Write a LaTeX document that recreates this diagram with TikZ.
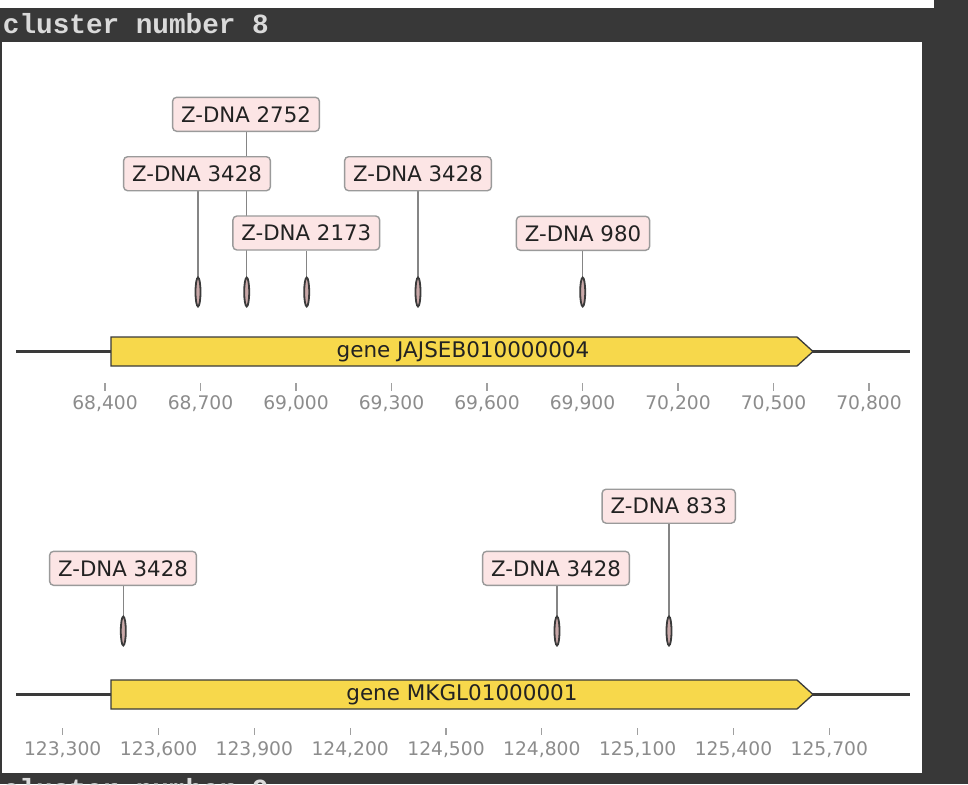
\documentclass[tikz,border=0pt]{standalone}
\usepackage{fontspec}
\setmainfont{DejaVu Sans}
\newfontfamily\hdrfont{Liberation Mono}
\usetikzlibrary{shapes.geometric}
\definecolor{bgdark}{HTML}{383838}
\definecolor{hdrtext}{HTML}{DADADA}
\definecolor{genefill}{HTML}{F7D84B}
\definecolor{geneedge}{HTML}{3A3A3A}
\definecolor{lblfill}{HTML}{FCE5E5}
\definecolor{lbledge}{HTML}{9A9A9A}
\definecolor{axisgrey}{HTML}{8C8C8C}
\definecolor{tickgrey}{HTML}{A0A0A0}
\definecolor{linkgrey}{HTML}{858585}
\definecolor{featfill}{HTML}{C9A8A8}
\definecolor{lbltext}{HTML}{222222}
\pgfdeclarelayer{back}
\pgfdeclarelayer{bg}
\pgfsetlayers{back,bg,main}
\begin{document}
\begin{tikzpicture}[x=1pt,y=-1pt,
  zlabel/.style={draw=lbledge, line width=1.4pt, fill=lblfill, rounded corners=4pt,
    inner xsep=8.5pt, inner ysep=0pt, minimum height=34pt,
    font=\fontsize{21.3}{24}\selectfont, text=lbltext},
  feat/.style={ellipse, draw=geneedge, line width=1.8pt, fill=featfill,
    minimum width=5pt, minimum height=29pt, inner sep=0pt},
  link/.style={draw=linkgrey, line width=1.5pt},
  backbone/.style={draw=geneedge, line width=2.2pt},
  genebody/.style={draw=geneedge, line width=1.3pt, fill=genefill},
  genelbl/.style={font=\fontsize{21.5}{24}\selectfont, text=lbltext, inner sep=0pt},
  ticklbl/.style={text=axisgrey, font=\fontsize{18.7}{20}\selectfont, inner sep=0pt},
  tickmark/.style={draw=tickgrey, line width=1.2pt},
  hdr/.style={text=hdrtext, font=\hdrfont\bfseries\fontsize{27.7}{30}\selectfont, inner sep=0pt, anchor=base west}]
\useasboundingbox (0,0) rectangle (968,784);
% backgrounds
\begin{pgfonlayer}{back}
\fill[bgdark] (0,0) rectangle (968,784);
\fill[white] (0,0) rectangle (934,8);
\fill[white] (2,42) rectangle (922,773);
\end{pgfonlayer}
\node[hdr] (hdr8) at (2.7,34) {cluster number 8};
\begin{scope}
\clip (0,773) rectangle (968,784);
\node[hdr] (hdr9) at (2.7,798.5) {cluster number 9};
\end{scope}

% ---------- top track ----------
\draw[backbone] (16,351.5) -- (910,351.5);
\draw[genebody] (111,337) -- (797,337) -- (813,351.5) -- (797,366) -- (111,366) -- cycle;
\node[genelbl] (g1) at (463,351.5) {gene JAJSEB010000004};
\foreach \i/\t in {0/{68,400},1/{68,700},2/{69,000},3/{69,300},4/{69,600},5/{69,900},6/{70,200},7/{70,500},8/{70,800}}{
  \draw[tickmark] ({105+95.5*\i},383) -- ({105+95.5*\i},391);
  \node[ticklbl] at ({105+95.5*\i},404) {\t};
}
\node[feat] (fa) at (198,292) {};
\node[feat] (fb) at (246.7,292) {};
\node[feat] (fc) at (306.7,292) {};
\node[feat] (fd) at (418,292) {};
\node[feat] (fe) at (582.7,292) {};
\node[zlabel] (lb) at (246,114.3) {Z-DNA 2752};
\node[zlabel] (la) at (197,173.7) {Z-DNA 3428};
\node[zlabel] (ld) at (418,173.7) {Z-DNA 3428};
\node[zlabel] (lc) at (306.3,233) {Z-DNA 2173};
\node[zlabel] (le) at (583,233.3) {Z-DNA 980};
\begin{pgfonlayer}{bg}
\draw[link] (fa.north) -- (fa.north |- la.south);
\draw[link] (fb.north) -- (fb.north |- lb.south);
\draw[link] (fc.north) -- (fc.north |- lc.south);
\draw[link] (fd.north) -- (fd.north |- ld.south);
\draw[link] (fe.north) -- (fe.north |- le.south);
\end{pgfonlayer}

% ---------- bottom track ----------
\draw[backbone] (16,694.5) -- (910,694.5);
\draw[genebody] (111,680) -- (797,680) -- (813,694.5) -- (797,709) -- (111,709) -- cycle;
\node[genelbl] (g2) at (462,694.5) {gene MKGL01000001};
\foreach \i/\t in {0/{123,300},1/{123,600},2/{123,900},3/{124,200},4/{124,500},5/{124,800},6/{125,100},7/{125,400},8/{125,700}}{
  \draw[tickmark] ({62.7+95.83*\i},728) -- ({62.7+95.83*\i},735);
  \node[ticklbl] at ({62.7+95.83*\i},750) {\t};
}
\node[feat] (fg) at (123.3,631) {};
\node[feat] (fh) at (557,631) {};
\node[feat] (fi) at (669,631) {};
\node[zlabel] (lg) at (123,568.3) {Z-DNA 3428};
\node[zlabel] (lh) at (556,568.3) {Z-DNA 3428};
\node[zlabel] (li) at (668.7,506.2) {Z-DNA 833};
\begin{pgfonlayer}{bg}
\draw[link] (fg.north) -- (fg.north |- lg.south);
\draw[link] (fh.north) -- (fh.north |- lh.south);
\draw[link] (fi.north) -- (fi.north |- li.south);
\end{pgfonlayer}
\end{tikzpicture}
\end{document}
